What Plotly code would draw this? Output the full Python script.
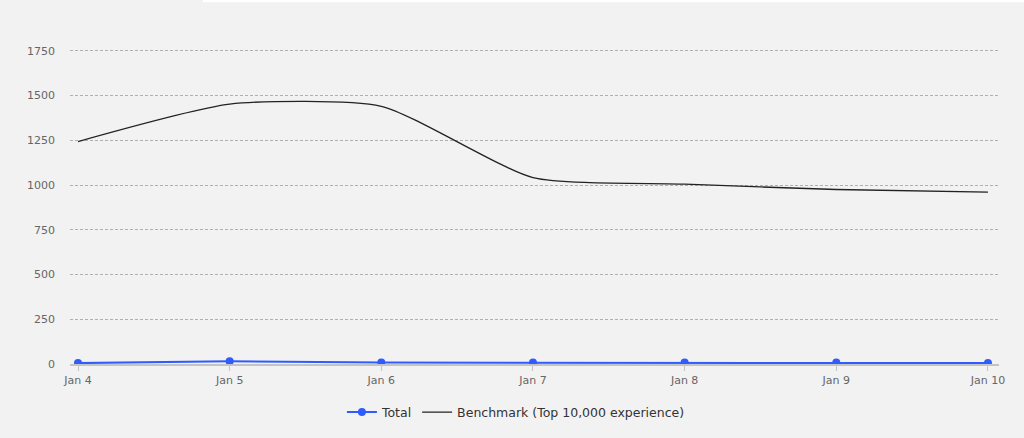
import plotly.graph_objects as go

dates = ["2021-01-04", "2021-01-05", "2021-01-06", "2021-01-07",
         "2021-01-08", "2021-01-09", "2021-01-10"]
total = [5, 15, 8, 8, 8, 8, 5]
benchmark = [1243, 1452, 1440, 1042, 1005, 975, 960]

yTicks = [0, 250, 500, 750, 1000, 1250, 1500, 1750]

fig = go.Figure()

fig.add_trace(go.Scatter(
    x=dates, y=total, name="Total", mode="lines+markers",
    line=dict(color="#2f5bff", width=2),
    marker=dict(size=8, color="#2f5bff"),
))
fig.add_trace(go.Scatter(
    x=dates, y=benchmark, name="Benchmark (Top 10,000 experience)",
    mode="lines", line=dict(color="#222222", width=1.3, shape="spline", smoothing=0.6),
))

fig.update_layout(
    width=1024, height=438,
    margin=dict(l=70, r=25, t=49, b=73),
    paper_bgcolor="#f2f2f2", plot_bgcolor="#f2f2f2",
    font=dict(family="DejaVu Sans, sans-serif", size=11, color="#666666"),
    showlegend=True,
    legend=dict(orientation="h", x=0.48, xanchor="center", y=-0.15, yanchor="middle",
                font=dict(size=12.5, color="#333333")),
    # thin white strip along the top edge
    shapes=[dict(type="rect", xref="paper", yref="paper",
                 x0=(203 - 70) / 929, x1=1.04, y0=(365 - 2) / 316, y1=1.2,
                 fillcolor="#ffffff", line=dict(width=0), layer="below")],
)

fig.update_xaxes(
    type="date", range=["2021-01-03 22:44", "2021-01-10 01:45"],
    tickvals=dates, tickformat="%b %-d",
    showgrid=False, zeroline=False,
    showline=True, linecolor="#c4c4c4", linewidth=2,
    ticks="outside", ticklen=5, tickcolor="#c4c4c4",
)
fig.update_yaxes(
    range=[0, 1760], tickvals=yTicks,
    showgrid=True, gridcolor="#b0b0b0", griddash="3px,2px", gridwidth=1,
    zeroline=False, ticklabelstandoff=14,
)

fig.write_html("out.html", config={"displayModeBar": False},
               post_script="document.body.style.margin='0';")
